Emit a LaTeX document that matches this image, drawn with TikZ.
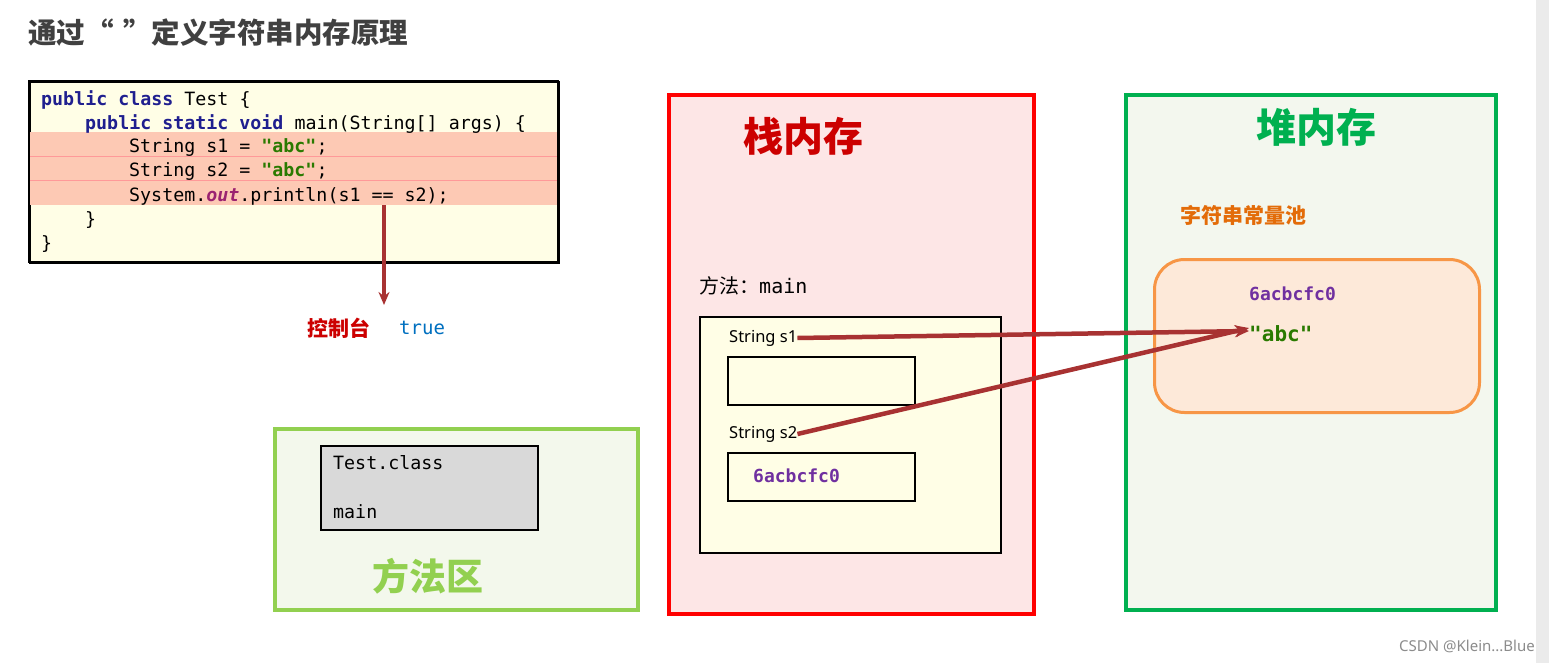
\documentclass[tikz,border=0pt]{standalone}
\usepackage{fontspec}
\usetikzlibrary{arrows.meta}
\setmainfont{Noto Sans}
\setmonofont{DejaVu Sans Mono}
\newfontfamily\cjk{Noto Sans CJK SC}
\definecolor{kw}{HTML}{1F1F8F}
\definecolor{strg}{HTML}{2A7A00}
\definecolor{arr}{HTML}{A83232}
\definecolor{purp}{HTML}{7030A0}
\begin{document}
\begin{tikzpicture}[x=1pt,y=-1pt,
  code/.style={anchor=west,inner sep=0pt,font=\ttfamily\fontsize{18.3}{18.3}\selectfont},
  lbl/.style={anchor=west,inner sep=0pt,font=\fontsize{16.5}{16.5}\selectfont},
  arrow/.style={draw=arr,line width=4.5pt,-{Stealth[length=14pt,width=12pt]}}]
\useasboundingbox (0,0) rectangle (1549,663);
\fill[white] (0,0) rectangle (1549,663);
\fill[black!8] (1536,0) rectangle (1549,663);
\node[anchor=west,inner sep=0pt,text=black!75,font=\cjk\bfseries\fontsize{28.5}{28.5}\selectfont] (title) at (28,33) {通过“\,\,”定义字符串内存原理};
% code box
\node[draw=black,line width=1.6pt,fill=yellow!10,minimum width=529pt,minimum height=181pt,anchor=north west,inner sep=0pt] (codebox) at (29,81) {};
\fill[fill={rgb,255:red,253;green,201;blue,180}] (30,132) rectangle (557,205);
\draw[red!40,line width=0.5pt] (30,156)--(557,156) (30,180)--(557,180);
\draw[black,line width=1.6pt] (29,81) rectangle (558,262);
\node[code] (c1) at (41,100) {\textcolor{kw}{\bfseries public class} Test \{};
\node[code] (c2) at (85,124) {\textcolor{kw}{\bfseries public static void} main(String[] args) \{};
\node[code] (c3) at (129,148) {String s1 = \textcolor{strg}{\bfseries"abc"};};
\node[code] (c4) at (129,172) {String s2 = \textcolor{strg}{\bfseries"abc"};};
\node[code] (c5) at (129,196) {System.\textcolor{purp!70!red}{\bfseries\itshape out}.println(s1 == s2);};
\node[code] (c6) at (85,220) {\}};
\node[code] (c7) at (41,244) {\}};
\coordinate (eq) at (384,205);
\node[anchor=west,inner sep=0pt,text=red!80!black,font=\cjk\bfseries\fontsize{21}{21}\selectfont] (console) at (307,328) {控制台};
\node[anchor=west,inner sep=0pt,text={rgb,255:red,0;green,112;blue,192},font=\ttfamily\fontsize{19}{19}\selectfont] (true) at (399,328) {true};
\coordinate (conTop) at (384,305);
\draw[arrow,line width=3.8pt,-{Stealth[length=13pt,width=11pt]}] (eq) -- (conTop);
% method area
\node[draw={rgb,255:red,146;green,208;blue,80},line width=3.8pt,fill={rgb,255:red,243;green,248;blue,236},anchor=north west,minimum width=363pt,minimum height=181pt] (ma) at (273,427) {};
\node[draw=black,line width=1.6pt,fill={rgb,255:red,217;green,217;blue,217},anchor=north west,minimum width=217pt,minimum height=84pt] (cls) at (320,445) {};
\node[code] (tc) at (333,463) {Test.class};
\node[code] (mm) at (333,512) {main};
\node[text={rgb,255:red,146;green,208;blue,80},font=\cjk\bfseries\fontsize{37}{37}\selectfont] (maT) at (428,576) {方法区};
% stack
\node[draw=red,line width=3.8pt,fill={rgb,255:red,253;green,230;blue,230},anchor=north west,minimum width=365pt,minimum height=519pt] (stack) at (667,93) {};
\node[text=red!80!black,font=\cjk\bfseries\fontsize{40}{40}\selectfont] (stT) at (803,136) {栈内存};
\node[anchor=west,inner sep=0pt,font=\fontsize{20}{20}\selectfont] (mn) at (699,286) {{\cjk 方法：}\ttfamily main};
\node[draw=black,line width=1.6pt,fill=yellow!10,anchor=north west,minimum width=301pt,minimum height=236pt] (frame) at (699,316) {};
\node[lbl] (s1) at (729,338) {String s1};
\node[draw=black,line width=2.2pt,anchor=north west,minimum width=187pt,minimum height=48pt] (b1) at (727,356) {};
\node[lbl] (s2) at (729,434) {String s2};
\node[draw=black,line width=2.2pt,anchor=north west,minimum width=187pt,minimum height=48pt] (b2) at (727,452) {};
\node[anchor=west,inner sep=0pt,text=purp,font=\ttfamily\bfseries\fontsize{18}{18}\selectfont] (a2) at (753,476) {6acbcfc0};
% heap
\node[draw={rgb,255:red,0;green,176;blue,80},line width=3.8pt,fill={rgb,255:red,243;green,247;blue,238},anchor=north west,minimum width=370pt,minimum height=515pt] (heap) at (1124,93) {};
\node[text={rgb,255:red,0;green,176;blue,80},font=\cjk\bfseries\fontsize{40}{40}\selectfont] (hT) at (1316,127) {堆内存};
\node[text={rgb,255:red,227;green,108;blue,9},font=\cjk\bfseries\fontsize{21}{21}\selectfont] (pool) at (1243,215) {字符串常量池};
\node[draw={rgb,255:red,247;green,150;blue,70},line width=3pt,fill={rgb,255:red,253;green,233;blue,217},rounded corners=30pt,anchor=north west,minimum width=325pt,minimum height=153pt] (poolbox) at (1153,258) {};
\node[anchor=west,inner sep=0pt,text=purp,font=\ttfamily\bfseries\fontsize{18}{18}\selectfont] (addr) at (1249,294) {6acbcfc0};
\node[anchor=west,inner sep=0pt,text=strg,font=\ttfamily\bfseries\fontsize{21}{21}\selectfont] (abc) at (1249,334) {"abc"};
\draw[arrow] (s1.east) -- ([yshift=3pt]abc.west);
\draw[arrow] (s2.east) -- ([yshift=6pt]abc.west);
\node[anchor=east,inner sep=0pt,text=black!45,font=\fontsize{15}{15}\selectfont] (wm) at (1535,646) {CSDN @Klein...Blue};
\end{tikzpicture}
\end{document}
